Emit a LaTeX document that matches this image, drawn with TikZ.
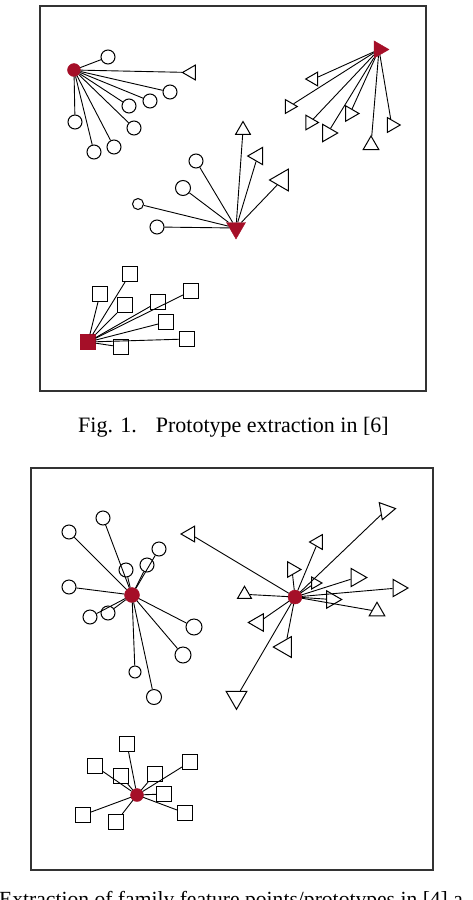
\documentclass[tikz,border=0pt]{standalone}
\usepackage{fontspec}
\setmainfont{Liberation Serif}
\usetikzlibrary{shapes.geometric}
\definecolor{protored}{RGB}{165,15,40}
\begin{document}
\begin{tikzpicture}[x=1pt,y=-1pt,
  ring/.style={circle,draw,line width=1pt,inner sep=0pt,minimum size=#1},
  ring/.default=14,
  sqr/.style={rectangle,draw,line width=1pt,inner sep=0pt,minimum size=15},
  trib/.style={regular polygon,regular polygon sides=3,draw,line width=1pt,inner sep=0pt,minimum size=#1},
  triL/.style={trib=#1,shape border rotate=90},
  triR/.style={trib=#1,shape border rotate=-90},
  triU/.style={trib=#1},
  triD/.style={trib=#1,shape border rotate=180},
  hub/.style={fill=protored,draw=protored,inner sep=0pt},
  spoke/.style={line width=0.9pt},
  frame/.style={draw=black!80,line width=2pt},
  figcap/.style={font=\fontsize{22}{26}\selectfont,inner sep=0pt}]
\useasboundingbox (0,0) rectangle (472,900);
\clip (0,0) rectangle (472,900);
\fill[white] (0,0) rectangle (472,900);

% frames
\draw[frame] (40,6) rectangle (426,391);
\draw[frame] (31,468) rectangle (433,870);

% ---------- Group 1: circles, red circle ----------
\node[hub,circle,minimum size=13] (a0) at (74,70) {};
\node[ring] (a1) at (108,57) {};
\node[triL=17] (a2) at (191,72.5) {};
\node[ring] (a3) at (170,92) {};
\node[ring] (a4) at (150,101) {};
\node[ring] (a5) at (129,106) {};
\node[ring] (a6) at (134,128) {};
\node[ring] (a7) at (75,122) {};
\node[ring] (a8) at (114,147) {};
\node[ring] (a9) at (94,152) {};
\foreach \n in {a1,a2,a3,a4,a5,a6,a7,a8,a9} \draw[spoke] (a0) -- (\n);

% ---------- Group 2: triangles, red triangle ----------
\node[hub,regular polygon,regular polygon sides=3,minimum size=20,shape border rotate=-90] (b0) at (379,49.5) {};
\node[triL=16] (b1) at (313.7,79) {};
\node[triR=16] (b2) at (289.3,106.5) {};
\node[triR=17] (b3) at (310,122.5) {};
\node[triR=20] (b4) at (327.7,133) {};
\node[triR=18] (b5) at (350,113.5) {};
\node[triU=18] (b6) at (371,145) {};
\node[triR=17] (b7) at (391.7,125) {};
\foreach \n in {b1,b2,b3,b4,b5,b6,b7} \draw[spoke] (b0) -- (\n);

% ---------- Group 3: mixed, red down triangle ----------
\node[hub,regular polygon,regular polygon sides=3,minimum size=22,shape border rotate=180] (c0) at (236,228) {};
\node[triU=17] (c1) at (243,130) {};
\node[triL=20] (c2) at (257.7,156) {};
\node[triL=25] (c3) at (282,180) {};
\node[ring] (c4) at (196,161) {};
\node[ring=15] (c5) at (183,188) {};
\node[ring=11] (c6) at (138,204) {};
\node[ring] (c7) at (157,227) {};
\foreach \n in {c1,c2,c3,c4,c5,c6,c7} \draw[spoke] (c0) -- (\n);

% ---------- Group 4: squares, red square ----------
\node[hub,rectangle,minimum size=15] (d0) at (88,342) {};
\node[sqr] (d1) at (130,274) {};
\node[sqr] (d2) at (100,294) {};
\node[sqr] (d3) at (125,305) {};
\node[sqr] (d4) at (158,302) {};
\node[sqr] (d5) at (191,291) {};
\node[sqr] (d6) at (166,322) {};
\node[sqr] (d7) at (187,339) {};
\node[sqr] (d8) at (121,347) {};
\foreach \n in {d1,d2,d3,d4,d5,d6,d7,d8} \draw[spoke] (d0) -- (\n);

\node[figcap,anchor=base west] (cap1) at (78,432) {Fig. 1.\hspace{19pt}Prototype extraction in [6]};

% ---------- Group 5: circles ----------
\node[hub,circle,minimum size=15] (e0) at (132,595) {};
\node[ring] (e1) at (103,518) {};
\node[ring] (e2) at (69,532) {};
\node[ring] (e3) at (126,570) {};
\node[ring] (e4) at (147,565) {};
\node[ring] (e5) at (159,549) {};
\node[ring] (e6) at (69,587) {};
\node[ring] (e7) at (108,613) {};
\node[ring] (e8) at (90,617) {};
\node[ring=16] (e9) at (194,627) {};
\node[ring=16] (e10) at (183,655) {};
\node[ring=12] (e11) at (135,672) {};
\node[ring=15] (e12) at (154,697) {};
\foreach \n in {e1,e2,e3,e4,e5,e6,e7,e8,e9,e10,e11,e12} \draw[spoke] (e0) -- (\n);

% ---------- Group 6: triangles ----------
\node[hub,circle,minimum size=14] (f0) at (295,597) {};
\node[triL=18] (f1) at (190,534) {};
\node[triL=17] (f2) at (318,542) {};
\node[trib=20,shape border rotate=-80] (f3) at (385.7,510.3) {};
\node[triR=18] (f4) at (292,569.5) {};
\node[triR=21] (f5) at (356.3,577.5) {};
\node[triR=20] (f6) at (398,588) {};
\node[triU=16] (f7) at (244.5,594.3) {};
\node[triR=20] (f8) at (331.7,599.5) {};
\node[triU=18] (f9) at (377,611.3) {};
\node[triL=20] (f10) at (258.3,622.5) {};
\node[triL=24] (f11) at (285.3,647) {};
\node[triD=24] (f12) at (236.5,697.3) {};
\node[triR=14] (f13) at (315,583) {};
\foreach \n in {f1,f2,f3,f4,f5,f6,f7,f8,f9,f10,f11,f12,f13} \draw[spoke] (f0) -- (\n);

% ---------- Group 7: squares ----------
\node[hub,circle,minimum size=13] (g0) at (137,795) {};
\node[sqr] (g1) at (127,744) {};
\node[sqr] (g2) at (95,766) {};
\node[sqr] (g3) at (121,776) {};
\node[sqr] (g4) at (155,774) {};
\node[sqr] (g5) at (190,762) {};
\node[sqr] (g6) at (164,794) {};
\node[sqr] (g7) at (185,813) {};
\node[sqr] (g8) at (83,815) {};
\node[sqr] (g9) at (116,822) {};
\foreach \n in {g1,g2,g3,g4,g5,g6,g7,g8,g9} \draw[spoke] (g0) -- (\n);

\node[figcap,font=\fontsize{21.6}{26}\selectfont,anchor=base west] (cap2) at (-1,906.5) {Extraction of family feature points/prototypes in [4] a};
\end{tikzpicture}
\end{document}
